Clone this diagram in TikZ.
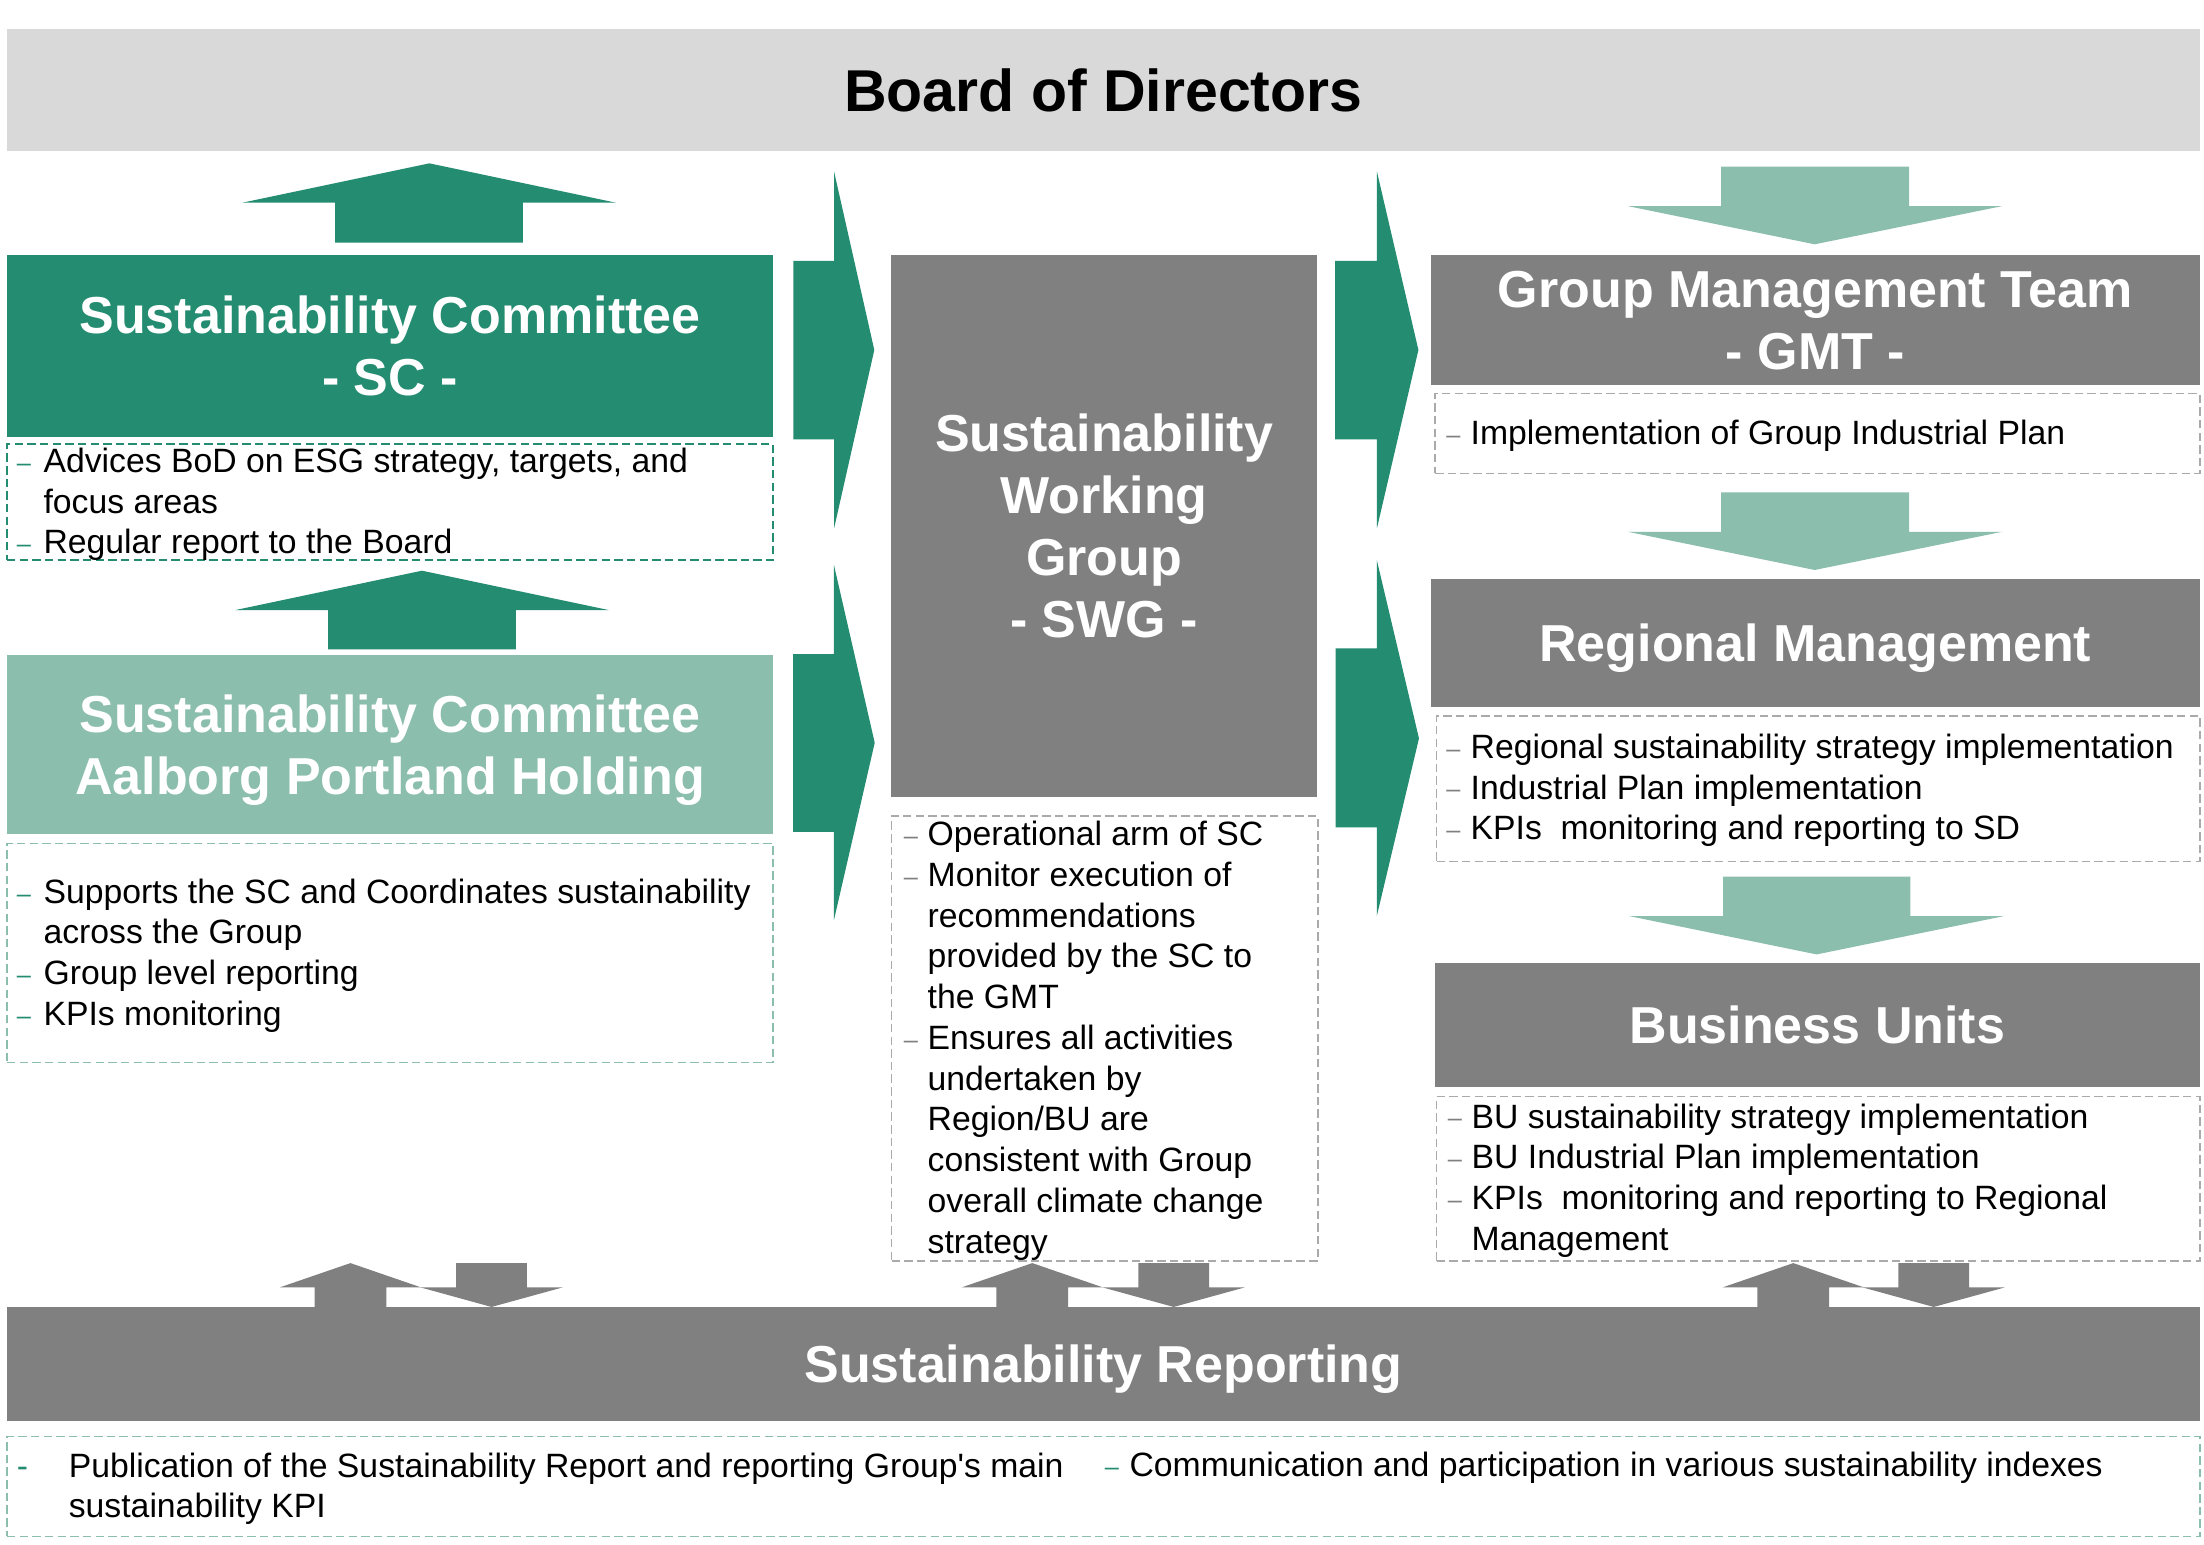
\documentclass[tikz,border=0pt]{standalone}
\usepackage{fontspec}
\setmainfont{Liberation Sans}
\definecolor{dgreen}{RGB}{36,140,112}
\definecolor{lgreen}{RGB}{139,190,172}
\definecolor{mgray}{RGB}{128,128,128}
\definecolor{lgray}{RGB}{217,217,217}
\definecolor{dgray}{RGB}{170,170,170}
\newcommand{\bul}[2]{\strut\makebox[#2][l]{\raisebox{0.8pt}{\fontsize{18}{29}\selectfont\textcolor{#1}{–}}}}
\newcommand{\cnt}[1]{\strut\hspace*{#1}}
\tikzset{
  boxtxt/.style={inner sep=0pt, outer sep=0pt, text=white, align=center, text depth=0pt, font=\bfseries\fontsize{37}{44}\selectfont},
  gbox/.style={boxtxt, fill=dgreen},
  lgbox/.style={boxtxt, fill=lgreen},
  graybox/.style={boxtxt, fill=mgray},
  dbox/.style={draw, dash pattern=on 6pt off 3pt, line width=1.1pt, inner sep=0pt, outer sep=0pt},
  body/.style={anchor=north west, inner sep=0pt, outer sep=0pt, align=left, text=black, font=\fontsize{24}{29}\selectfont},
  garrow/.style={fill=dgreen},
  larrow/.style={fill=lgreen},
  parrow/.style={fill=mgray}
}
\begin{document}
\begin{tikzpicture}[x=1pt,y=-1pt]
\useasboundingbox (0,0) rectangle (1568,1098.5);
\fill[white] (0,0) rectangle (1568,1098.5);

% Board of Directors
\node[boxtxt, fill=lgray, text=black, font=\bfseries\fontsize{42}{50}\selectfont,
      minimum width=1560pt, minimum height=86.6pt] (bod) at (785,63.9) {Board of Directors};

% ---------- left column ----------
\fill[garrow] (238.5,172.6) -- (238.5,144.2) -- (172.4,144.2) -- (305.5,116.2) -- (438.2,144.2) -- (372,144.2) -- (372,172.6) -- cycle;
\node[gbox, minimum width=545pt, minimum height=129.3pt] (sc) at (277.5,246) {Sustainability Committee\\- SC -};
\node[dbox, draw=dgreen, minimum width=545pt, minimum height=82.4pt] (scd) at (277.5,357.2) {};
\node[body] (scdt) at (12,315.7) {\bul{dgreen}{19pt}Advices BoD on ESG strategy, targets, and\\
  \cnt{19pt}focus areas\\
  \bul{dgreen}{19pt}Regular report to the Board};

\fill[garrow] (233.5,462) -- (233.5,434) -- (167.5,434) -- (300.2,406) -- (433,434) -- (367,434) -- (367,462) -- cycle;
\node[lgbox, minimum width=545pt, minimum height=127pt] (scap) at (277.5,529.5) {Sustainability Committee\\Aalborg Portland Holding};
\node[dbox, draw=lgreen, minimum width=545pt, minimum height=156pt] (scapd) at (277.5,678) {};
\node[body] (scapdt) at (12,622.2) {\bul{dgreen}{19pt}Supports the SC and Coordinates sustainability\\
  \cnt{19pt}across the Group\\
  \bul{dgreen}{19pt}Group level reporting\\
  \bul{dgreen}{19pt}KPIs monitoring};

% ---------- right-pointing arrows ----------
\fill[garrow] (564.5,185.5) -- (593.4,185.5) -- (593.4,122.1) -- (622,249) -- (593.4,375.8) -- (593.4,312.6) -- (564.5,312.6) -- cycle;
\fill[garrow] (564.2,465.3) -- (593.3,465.3) -- (593.3,402) -- (622.3,528.4) -- (593.3,654.5) -- (593.3,591.9) -- (564.2,591.9) -- cycle;
\fill[garrow] (949.8,185.5) -- (979.6,185.5) -- (979.6,122.1) -- (1009.1,249) -- (979.6,375.8) -- (979.6,312.6) -- (949.8,312.6) -- cycle;
\fill[garrow] (950.2,461.2) -- (979.5,461.2) -- (979.5,398.4) -- (1009.5,525.3) -- (979.5,651.7) -- (979.5,588.6) -- (950.2,588.6) -- cycle;

% ---------- middle column ----------
\node[graybox, minimum width=303pt, minimum height=385.4pt] (swg) at (785.5,374.1) {Sustainability\\Working\\Group\\- SWG -};
\node[dbox, draw=dgray, minimum width=303.3pt, minimum height=316.5pt] (swgd) at (786,738.75) {};
\node[body] (swgdt) at (643,581.2) {\bul{mgray}{17pt}Operational arm of SC\\
  \bul{mgray}{17pt}Monitor execution of\\
  \cnt{17pt}recommendations\\
  \cnt{17pt}provided by the SC to\\
  \cnt{17pt}the GMT\\
  \bul{mgray}{17pt}Ensures all activities\\
  \cnt{17pt}undertaken by\\
  \cnt{17pt}Region/BU are\\
  \cnt{17pt}consistent with Group\\
  \cnt{17pt}overall climate change\\
  \cnt{17pt}strategy};

% ---------- right column ----------
\fill[larrow] (1224.5,118.6) -- (1358.2,118.6) -- (1358.2,146.6) -- (1424.5,146.6) -- (1291,173.8) -- (1158,146.6) -- (1224.5,146.6) -- cycle;
\node[graybox, minimum width=547pt, minimum height=92.5pt] (gmt) at (1291.5,227.65) {Group Management Team\\- GMT -};
\node[dbox, draw=dgray, minimum width=544pt, minimum height=56.9pt] (gmtd) at (1293,308.25) {};
\node[body] (gmtdt) at (1029,296.2) {\bul{mgray}{17.3pt}Implementation of Group Industrial Plan};

\fill[larrow] (1224.5,350.3) -- (1358.2,350.3) -- (1358.2,378.3) -- (1424.5,378.3) -- (1291,405.5) -- (1158,378.3) -- (1224.5,378.3) -- cycle;
\node[graybox, minimum width=547pt, minimum height=90.9pt] (rm) at (1291.5,457.35) {Regional Management};
\node[dbox, draw=dgray, minimum width=543pt, minimum height=103.8pt] (rmd) at (1293.5,561.1) {};
\node[body] (rmdt) at (1029,519.2) {\bul{mgray}{17.3pt}Regional sustainability strategy implementation\\
  \bul{mgray}{17.3pt}Industrial Plan implementation\\
  \bul{mgray}{17.3pt}KPIs\ \ monitoring and reporting to SD};

\fill[larrow] (1225.9,623.7) -- (1359,623.7) -- (1359,651.7) -- (1425.8,651.7) -- (1292.4,679) -- (1159,651.7) -- (1225.9,651.7) -- cycle;
\node[graybox, minimum width=544.2pt, minimum height=88.1pt] (bu) at (1292.9,728.95) {Business Units};
\node[dbox, draw=dgray, minimum width=543pt, minimum height=117pt] (bud) at (1293.5,838.5) {};
\node[body] (budt) at (1030,782.2) {\bul{mgray}{17pt}BU sustainability strategy implementation\\
  \bul{mgray}{17pt}BU Industrial Plan implementation\\
  \bul{mgray}{17pt}KPIs\ \ monitoring and reporting to Regional\\
  \cnt{17pt}Management};

% ---------- bottom up/down arrow pairs ----------
\foreach \cu/\cd in {249.3/349.7, 734.4/835, 1275.8/1375.7}{
  \fill[parrow] (\cu-25.5,930) -- (\cu-25.5,915.9) -- (\cu-50.3,915.9) -- (\cu,898.6) -- (\cu+50.3,915.9) -- (\cu+25.5,915.9) -- (\cu+25.5,930) -- cycle;
  \fill[parrow] (\cd-25.2,898.6) -- (\cd+25.2,898.6) -- (\cd+25.2,915.9) -- (\cd+50.5,915.9) -- (\cd,929.8) -- (\cd-50.5,915.9) -- (\cd-25.2,915.9) -- cycle;
}

% ---------- Sustainability Reporting ----------
\node[graybox, minimum width=1560pt, minimum height=81.4pt] (sr) at (785,970.3) {Sustainability Reporting};
\node[dbox, draw=lgreen, minimum width=1560pt, minimum height=71pt] (srd) at (785,1057.5) {};
\node[body] (srdt1) at (12,1030.5) {\strut\makebox[37pt][l]{\textcolor{dgreen}{-}}Publication of the Sustainability Report and reporting Group\textquotesingle s main\\
  \cnt{37pt}sustainability KPI};
\node[body] (srdt2) at (786,1030.3) {\bul{dgreen}{17.6pt}Communication and participation in various sustainability indexes};
\end{tikzpicture}
\end{document}
